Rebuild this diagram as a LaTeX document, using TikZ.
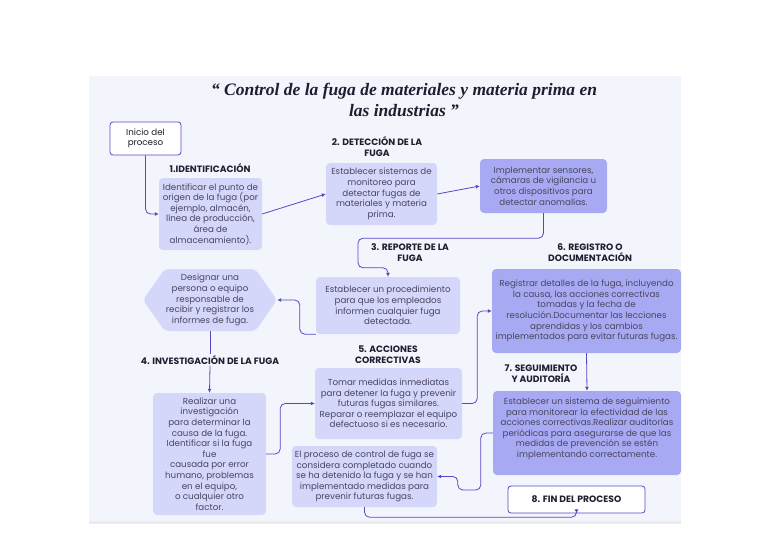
\documentclass[tikz,border=0pt]{standalone}
\usepackage{fontspec}
\setmainfont{Poppins}
\newfontfamily\titulofont{Liberation Serif}
\usetikzlibrary{shapes.symbols,arrows.meta}

\definecolor{fondo}{HTML}{F3F5FD}
\definecolor{claro}{HTML}{D4D6FA}
\definecolor{medio}{HTML}{A7AAF2}
\definecolor{morado}{HTML}{5B45C6}
\definecolor{texto}{HTML}{4A4560}
\definecolor{titulo}{HTML}{1F1D2E}

\begin{document}
\begin{tikzpicture}[x=1pt,y=-1pt,
    caja/.style ={rectangle, rounded corners=4pt, fill=claro, text=texto, align=center, inner sep=1pt, font=\fontsize{8.7}{10.6}\selectfont},
    cajaoscura/.style ={caja, fill=medio},
    borde/.style ={rectangle, rounded corners=3pt, draw=morado, thick, fill=white, text=titulo, align=center, font=\fontsize{8.7}{10.6}\selectfont},
    encabezado/.style ={text=titulo, align=center, inner sep=1pt, font=\bfseries\fontsize{9.2}{11}\selectfont},
    flecha/.style ={draw=morado, thick, rounded corners=5pt, -{Latex[length=4pt,width=4pt]}},
    trazo/.style ={draw=morado, thick}]
   \useasboundingbox (0,0) rectangle (768,543);
   \fill[black!8] (89,519) rectangle (681,524);
   \fill[fondo] (89,76) rectangle (681,521);

   \node[text=titulo, align=center, font=\titulofont\bfseries\itshape\fontsize{17.5}{21}\selectfont] (T) at (404,100) {“ Control de la fuga de materiales y materia prima en\\las industrias ”};

   \node[borde, minimum width=71pt, minimum height=33pt] (S) at (145.5,138.5) {Inicio del\\proceso};
   \node[encabezado] (T1) at (210,168) {1.IDENTIFICACIÓN};
   \node[caja, minimum width=103pt, minimum height=72pt] (A) at (210.5,214) {Identificar el punto de\\origen de la fuga (por\\ejemplo, almacén,\\línea de producción,\\área de\\almacenamiento).};
   \node[encabezado] (T2) at (377,147) {2. DETECCIÓN DE LA\\FUGA};
   \node[caja, minimum width=111pt, minimum height=62pt] (B) at (381.5,194) {Establecer sistemas de\\monitoreo para\\detectar fugas de\\materiales y materia\\prima.};
   \node[cajaoscura, minimum width=127pt, minimum height=54pt] (C) at (543.5,186) {Implementar sensores,\\cámaras de vigilancia u\\otros dispositivos para\\detectar anomalías.};
   \node[encabezado] (T3) at (410,253) {3. REPORTE DE LA\\FUGA};
   \node[caja, minimum width=144pt, minimum height=57pt] (D) at (388,305.5) {Establecer un procedimiento\\para que los empleados\\informen cualquier fuga\\detectada.};
   \node[caja, signal, signal to=west and east, signal pointer angle=110, minimum width=134pt, minimum height=62pt] (E) at (210,300) {Designar una\\persona o equipo\\responsable de\\recibir y registrar los\\informes de fuga.};
   \node[encabezado] (T4) at (210,360) {4. INVESTIGACIÓN DE LA FUGA};
   \node[caja, minimum width=113pt, minimum height=122pt] (F) at (209.5,454) {Realizar una\\investigación\\para determinar la\\causa de la fuga.\\Identificar si la fuga\\fue\\causada por error\\humano, problemas\\en el equipo,\\o cualquier otro\\factor.};
   \node[encabezado] (T5) at (388,354.5) {5. ACCIONES\\CORRECTIVAS};
   \node[caja, minimum width=147pt, minimum height=71pt] (G) at (388.5,403.5) {Tomar medidas inmediatas\\para detener la fuga y prevenir\\futuras fugas similares.\\Reparar o reemplazar el equipo\\defectuoso si es necesario.};
   \node[encabezado] (T6) at (590,252.5) {6. REGISTRO O\\DOCUMENTACIÓN};
   \node[cajaoscura, minimum width=189pt, minimum height=84pt] (H) at (586.5,311) {Registrar detalles de la fuga, incluyendo\\la causa, las acciones correctivas\\tomadas y la fecha de\\resolución.Documentar las lecciones\\aprendidas y los cambios\\implementados para evitar futuras fugas.};
   \node[encabezado] (T7) at (541,374) {7. SEGUIMIENTO\\Y AUDITORÍA};
   \node[cajaoscura, minimum width=188pt, minimum height=84pt] (I) at (587,433) {Establecer un sistema de seguimiento\\para monitorear la efectividad de las\\acciones correctivas.Realizar auditorías\\periódicas para asegurarse de que las\\medidas de prevención se estén\\implementando correctamente.\\~};
   \node[caja, minimum width=145pt, minimum height=61pt] (J) at (364.5,476.5) {El proceso de control de fuga se\\considera completado cuando\\se ha detenido la fuga y se han\\implementado medidas para\\prevenir futuras fugas.};
   \node[borde, font=\bfseries\fontsize{9.2}{11}\selectfont, minimum width=137pt, minimum height=27pt] (K) at (576.5,499.5) {8. FIN DEL PROCESO};

   \draw[flecha] (S.south) |- (A.west);
   \draw[flecha] (A.east) -- (B.west);
   \draw[flecha] (B.east) -- (C.west);
   \draw[flecha] (C.south) -- ++(0,25) -| ([xshift=-30pt,yshift=9pt]D.north) -| (D.north);
   \draw[flecha] (D.south west) -- ++(-16,0) |- (E.east);
   \draw[trazo] (E.south) -- (T4.north);
   \draw[flecha] (T4.south) -- (F.north);
   \draw[flecha] (F.east) -- ++(14,0) |- (G.west);
   \draw[flecha] (G.east) -- ++(15,0) |- (H.west);
   \draw[flecha] (H.south) -- (I.north);
   \draw[flecha] (I.west) -- ++(-12,0) |- ++(-23,57) |- (J.east);
   \draw[flecha] (J.south) -- ++(0,10) -| (K.south);
 \end{tikzpicture}
\end{document}
